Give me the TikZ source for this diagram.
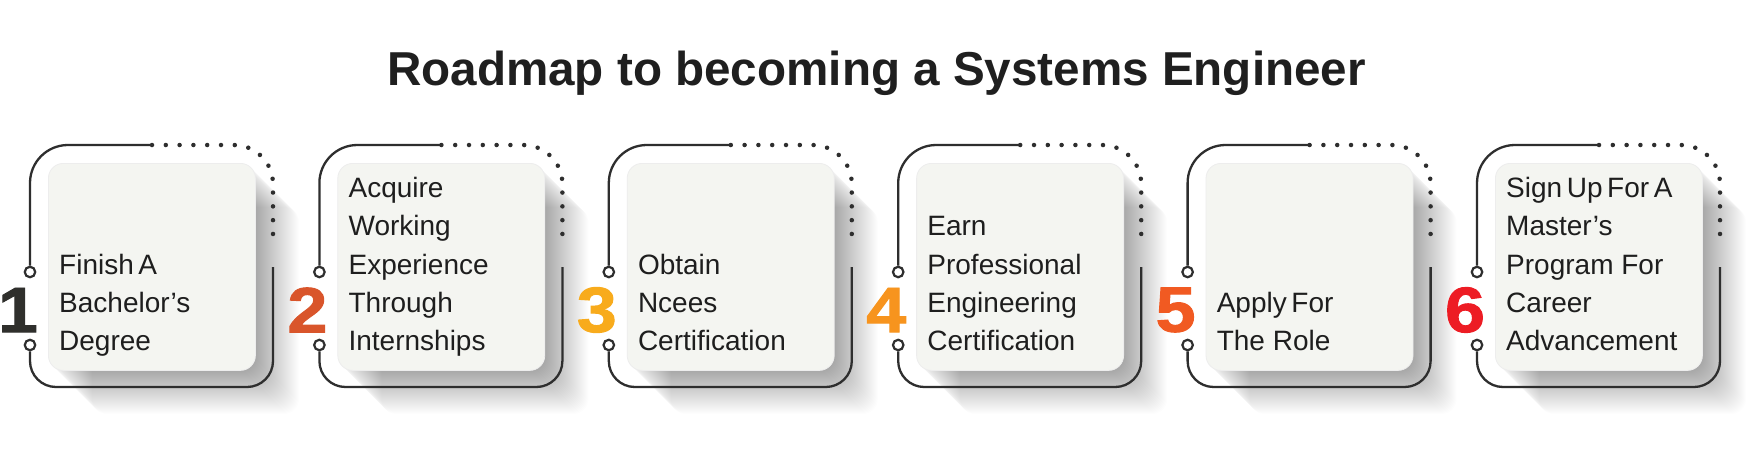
\documentclass[tikz,border=0pt]{standalone}
\usepackage{fontspec}
\setmainfont{Liberation Sans}
\newfontfamily\digitfont{Liberation Sans Bold}[FakeBold=1.5]
\definecolor{lc}{HTML}{2E2E2E}
\definecolor{boxc}{HTML}{F4F5F1}
\definecolor{tc}{HTML}{1E1E1E}
\definecolor{d1}{HTML}{2F2F2C}
\definecolor{d2}{HTML}{D9552B}
\definecolor{d3}{HTML}{F8AB1C}
\definecolor{d4}{HTML}{F7941E}
\definecolor{d5}{HTML}{F15A22}
\definecolor{d6}{HTML}{ED1C24}
\begin{document}
\begin{tikzpicture}[x=1pt,y=-1pt,
  frame/.style={draw=lc, line width=2.3pt},
  dotline/.style={draw=lc, line width=4.5pt, line cap=round, dash pattern=on 0pt off 13.8pt},
  ring/.style={circle, draw=lc, fill=white, line width=2.2pt, minimum size=10.5pt, inner sep=0pt},
  cardbox/.style={fill=boxc, draw=black!7, line width=0.8pt, rounded corners=15pt, minimum width=207pt, minimum height=207pt, anchor=north west, inner sep=0pt},
  cardtext/.style={anchor=south west, inner sep=0pt, text depth=0pt, align=left, font=\fontsize{28}{38.3}\selectfont, text=tc},
  digit/.style={font=\digitfont\fontsize{64}{64}\selectfont, inner sep=0pt, xscale=1.12},
  title/.style={font=\bfseries\fontsize{47.6}{47.6}\selectfont, text=black!88, inner sep=0pt, anchor=base}]
\useasboundingbox (0,0) rectangle (1752,450);
\fill[white] (0,0) rectangle (1752,450);
\node[title] (title) at (876.5,85) {Roadmap to becoming a Systems Engineer};
\foreach \ci/\clr/\dg/\mytext in {
  0/d1/1/{Finish A\\Bachelor's\\Degree},
  1/d2/2/{Acquire\\Working\\Experience\\Through\\Internships},
  2/d3/3/{Obtain\\Ncees\\Certification},
  3/d4/4/{Earn\\Professional\\Engineering\\Certification},
  4/d5/5/{Apply For\\The Role},
  5/d6/6/{Sign Up For A\\Master's\\Program For\\Career\\Advancement}}{
  \pgfmathsetmacro\bx{48+289.4*\ci}
  \pgfmathsetmacro\lx{\bx-18}
  \pgfmathsetmacro\rx{\bx+225}
  \pgfmathsetmacro\sx{\bx+104}
  % long shadow
  \foreach \k in {1,...,44}{
    \fill[black,opacity=0.0068,rounded corners=15pt] (\bx+\k,163+\k) rectangle ++(207,207);
  }
  \node[ring] (ra\ci) at (\lx,272) {};
  \node[ring] (rb\ci) at (\lx,345) {};
  \coordinate (ts\ci) at (\sx,145);
  \coordinate (de\ci) at (\rx,238);
  \coordinate (rs\ci) at (\rx,267);
  \coordinate (bc\ci) at (\rx,387);
  \draw[frame, rounded corners=38pt] (ra\ci.north) |- (ts\ci);
  \draw[dotline, rounded corners=39pt] (ts\ci) -| (de\ci);
  \draw[frame, rounded corners=26pt] (rb\ci.south) |- (bc\ci) -- (rs\ci);
  \node[cardbox] (box\ci) at (\bx,163) {};
  \node[cardtext] (txt\ci) at (\bx+11,351) {\spaceskip=4.6pt plus 1pt\relax\mytext};
  \node[digit, text=\clr] (num\ci) at (\lx-12,310) {\dg};
}
\end{tikzpicture}
\end{document}
